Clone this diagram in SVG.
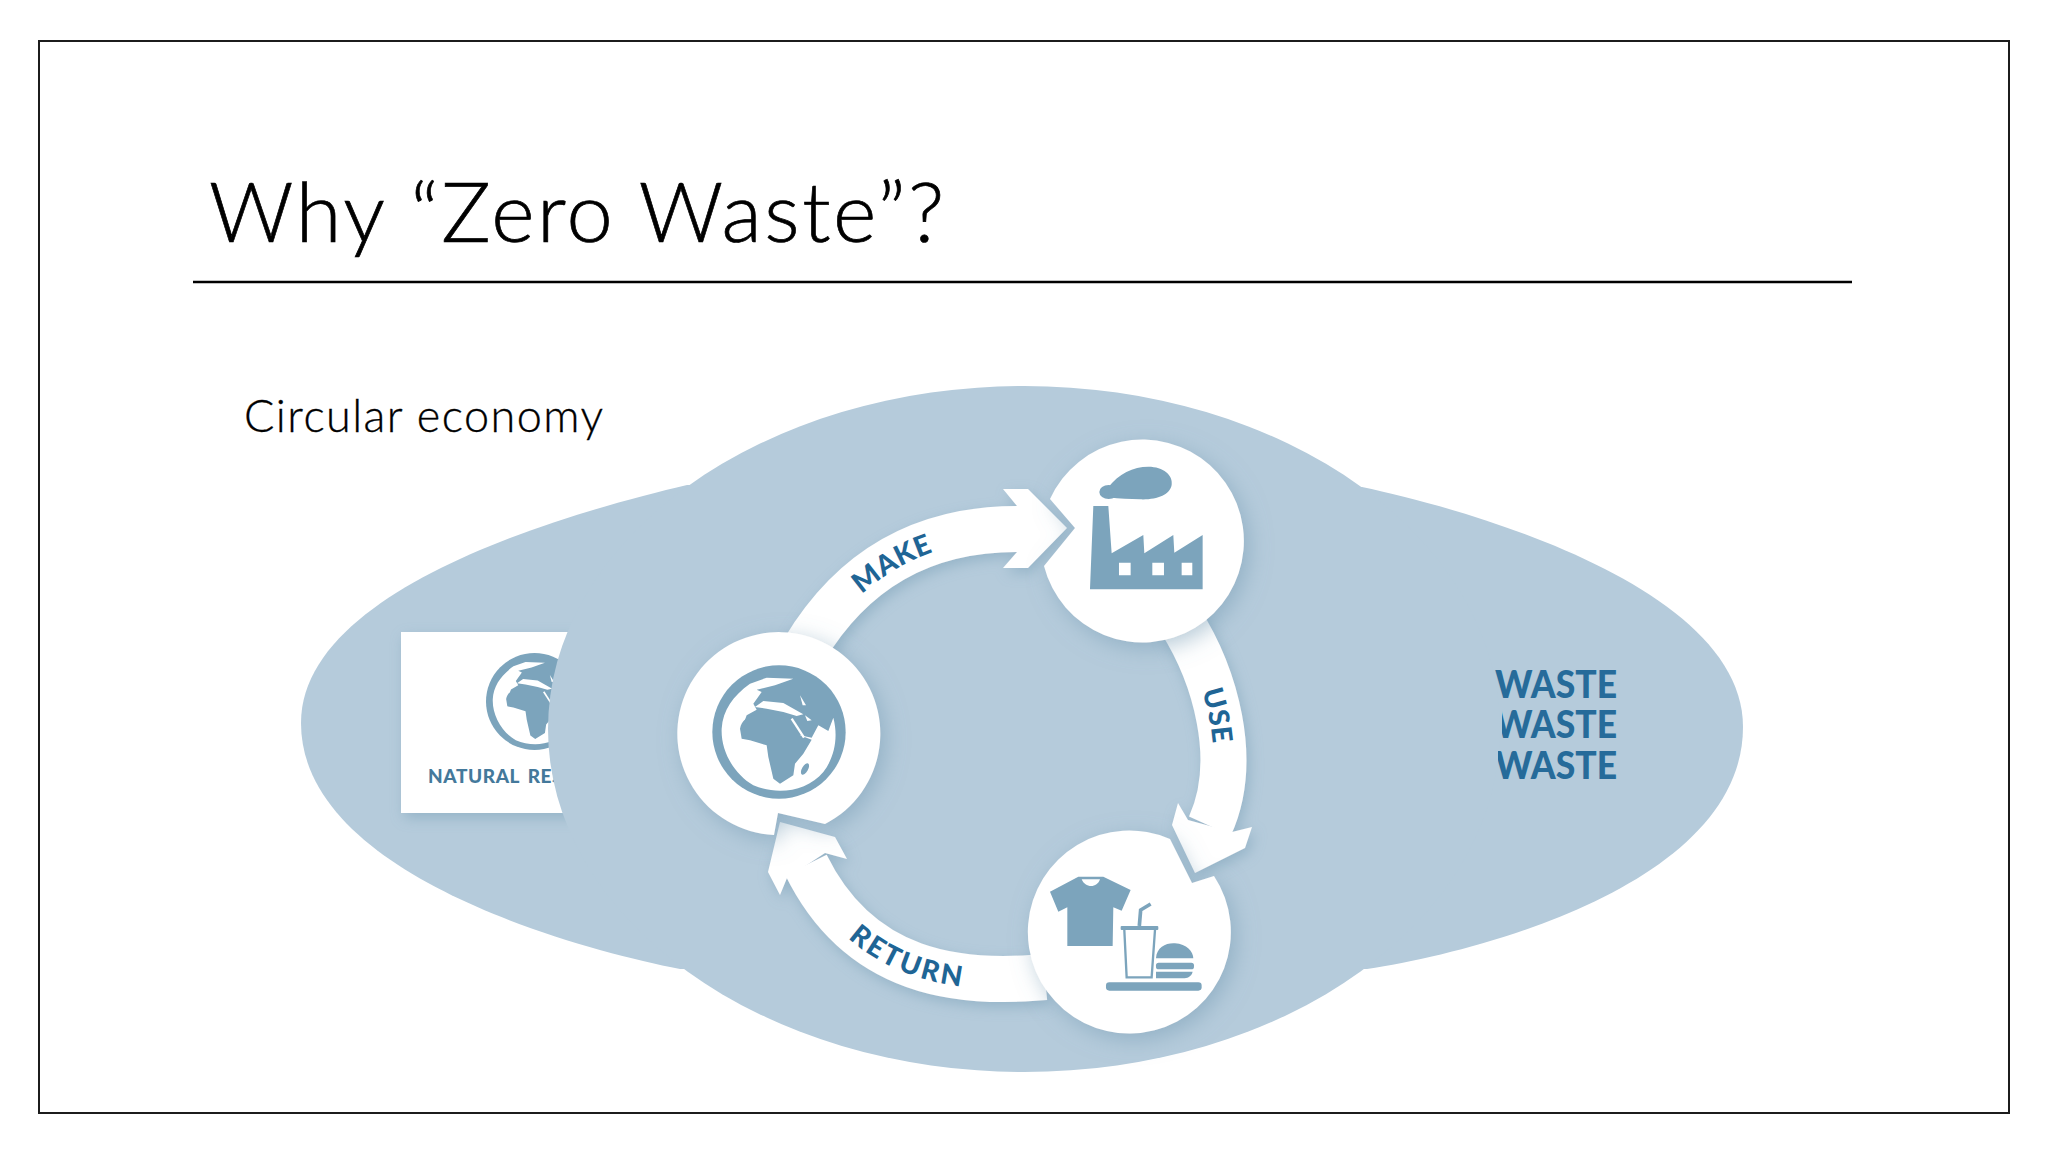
<svg xmlns="http://www.w3.org/2000/svg" xmlns:xlink="http://www.w3.org/1999/xlink" width="2048" height="1152" viewBox="0 0 2048 1152">
<style>
.blob{fill:#b5cbdb}
.ic{fill:#7ca4bc}
.ln{fill:none;stroke:#7ca4bc}
.w{fill:#fff}
.band{fill:none;stroke:#fff;stroke-width:46}
.lbl{font-family:"Lato","Liberation Sans",sans-serif;font-weight:900;font-size:28px;fill:#1f6595;letter-spacing:1.5px}
.waste{font-family:"Lato","Liberation Sans",sans-serif;font-weight:900;font-size:37px;fill:#266b9a}
.nat{font-family:"Lato","Liberation Sans",sans-serif;font-weight:900;font-size:19px;fill:#44799b;letter-spacing:.6px;word-spacing:3px}
.t{font-family:"Lato","Open Sans",sans-serif;font-weight:300;fill:#000;stroke:#000;stroke-width:.7}
.s{stroke-width:.35}
</style>
<defs>
<filter id="sh" x="-30%" y="-30%" width="160%" height="160%"><feDropShadow dx="5" dy="6" stdDeviation="11" flood-color="#6f98b0" flood-opacity="0.5"/></filter>
<filter id="sh2" x="-20%" y="-20%" width="140%" height="140%"><feDropShadow dx="3" dy="5" stdDeviation="7" flood-color="#6f98b0" flood-opacity="0.45"/></filter>
<path id="pMake" d="M804 650C852 570 922 529 1017 529"/>
<path id="pUse" d="M1180 620C1215 675 1240 760 1210 826"/>
<path id="pReturn" d="M806 865C860 975 960 985 1045 977"/>
<clipPath id="c2"><rect x="1502" y="700" width="130" height="42"/></clipPath>
<clipPath id="c3"><rect x="1498" y="742" width="130" height="42"/></clipPath>
<g id="globe">
<circle cx="237" cy="245" r="200" class="ic"/>
<path class="w" d="M150 100C100 135 68 180 65 235C62 300 100 370 160 405C230 435 320 425 370 365C405 320 415 260 400 202L385 242L355 225L335 262L300 255L200 250L125 235L140 195L170 178L160 160L185 125L170 118L225 105L280 85L200 82Z"/>
<path class="w" d="M165 170L190 152L250 158L310 192L290 197L250 185L200 175Z"/>
<path class="ic" d="M120 235C125 210 140 198 180 190L240 195L275 205L300 255L335 268L310 310L285 340L280 375L240 400L220 385L205 320L200 285L150 270L125 265Z"/>
<path d="M275 205L312 262" fill="none" stroke="#fff" stroke-width="7"/>
<ellipse class="ic" cx="315" cy="356" rx="9" ry="19" transform="rotate(30 315 356)"/>
<path class="w" d="M300 135L318 165L308 165Z"/>
<path class="w" d="M315 195L335 210L322 212Z"/>
</g>
</defs>
<rect width="2048" height="1152" fill="#fff"/>
<rect x="39" y="41" width="1970" height="1072" fill="none" stroke="#1c1c1c" stroke-width="2"/>
<text class="t" x="209" y="242" font-size="83" textLength="735" lengthAdjust="spacing">Why “Zero Waste”?</text>
<line x1="193" y1="282" x2="1852" y2="282" stroke="#000" stroke-width="2.5"/>
<text class="t s" x="244" y="432" font-size="45" textLength="359" lengthAdjust="spacing">Circular economy</text>

<path class="blob" d="M687 485L1362 487C1480 512 1743 590 1743 727C1743 880 1490 950 1367 969L680 969C560 945 301 870 301 723C301 590 560 515 687 485Z"/>
<g id="natural-resources">
<rect x="401" y="632" width="175" height="181" class="w" filter="url(#sh2)"/>
<use href="#globe" transform="translate(534.500 701.500) scale(0.2425) translate(-237 -245)"/>
<text class="nat" x="428" y="783">NATURAL RES</text>
</g>
<ellipse class="blob" cx="1024" cy="729" rx="476" ry="343"/>
<g id="waste">
<text class="waste" x="1495" y="698" textLength="122" lengthAdjust="spacingAndGlyphs">WASTE</text>
<text class="waste" x="1495" y="738" textLength="122" lengthAdjust="spacingAndGlyphs" clip-path="url(#c2)">WASTE</text>
<text class="waste" x="1495" y="779" textLength="122" lengthAdjust="spacingAndGlyphs" clip-path="url(#c3)">WASTE</text>
</g>

<g id="connectors">
<g filter="url(#sh2)">
<use href="#pMake" class="band"/>
<polygon class="w" points="1003,489 1028,489 1067,528 1028,568 1003,568 1017,552 1017,506"/>
<use href="#pUse" class="band"/>
<polygon class="w" points="1178,803 1188,820 1232,832 1252,827 1245,848 1195,873 1172,825"/>
<use href="#pReturn" class="band"/>
<polygon class="w" points="780,822 835,837 847,859 825,853 787,878 780,895 768,872"/>
</g>
<text class="lbl" dy="10"><textPath href="#pMake" startOffset="49%" text-anchor="middle">MAKE</textPath></text>
<text class="lbl" dy="10"><textPath href="#pUse" startOffset="48%" text-anchor="middle">USE</textPath></text>
<text class="lbl" dy="10"><textPath href="#pReturn" startOffset="50%" text-anchor="middle">RETURN</textPath></text>
</g>

<g id="node-factory">
<path class="w" filter="url(#sh)" d="M1050 499A101.500 101.500 0 1 1 1044 566L1075 528Z"/>
<g transform="translate(960 400) scale(.3333)">
<path class="ic" fill-rule="evenodd" d="M400 318H445L455 460L550 405L553 460L640 405L643 458L728 405V568H390ZM477 488V526H512V488ZM577 488V526H612V488ZM665 488V526H697V488Z"/>
<ellipse class="ic" cx="446" cy="276" rx="28" ry="21"/>
<path class="ic" d="M445 262C475 222 520 200 565 200C610 200 640 225 635 255C630 285 590 300 540 298C510 297 480 297 445 292Z"/>
</g>
</g>
<g id="node-products">
<path class="w" filter="url(#sh)" d="M1214 876A101.500 101.500 0 1 1 1170 839L1192 883Z"/>
<g transform="translate(980 780) scale(.3333)">
<path class="ic" d="M210 335L295 290H370L452 330L425 392L400 382L398 498H262V382L235 395Z"/>
<path class="w" d="M305 298H360C352 325 315 325 305 298Z"/>
<rect class="ic" x="422" y="438" width="113" height="12" rx="3"/>
<path class="ln" stroke-width="7" d="M433 450L440 592H515L525 450"/>
<path class="ln" stroke-width="11" d="M478 438L482 390L512 372"/>
<path class="ic" d="M528 535C530 500 560 488 585 490C620 492 640 515 640 535Z"/>
<rect class="ic" x="528" y="548" width="114" height="20" rx="8"/>
<path class="ic" d="M528 575H638C635 590 620 595 610 595H528Z"/>
<rect class="ic" x="378" y="607" width="287" height="25" rx="10"/>
</g>
</g>
<g id="node-earth">
<path class="w" filter="url(#sh)" d="M774 835A101.500 101.500 0 1 1 825 824L778 813Z"/>
<use href="#globe" transform="translate(779 732) scale(.3333) translate(-237 -245)"/>
</g>
</svg>
